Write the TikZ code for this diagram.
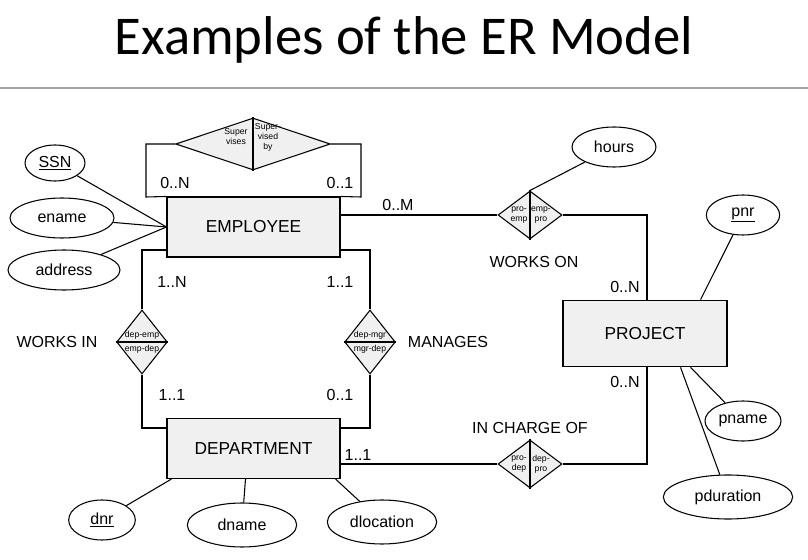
\documentclass[tikz,border=0pt]{standalone}
\usepackage{fontspec}
\setmainfont{Liberation Sans}
\newfontfamily\titlefont{Carlito}
\usetikzlibrary{shapes.geometric}
\begin{document}
\begin{tikzpicture}[x=0.75pt,y=-0.75pt,
  ent/.style={draw,thick,fill=gray!12,minimum width=129.75pt,minimum height=45pt,font=\fontsize{13}{15}\selectfont},
  rel/.style={draw,fill=gray!12,shape=diamond,inner sep=0pt},
  att/.style={draw,ellipse,inner sep=0pt,font=\fontsize{12}{14}\selectfont},
  lbl/.style={font=\fontsize{12}{14}\selectfont},
  tiny/.style={font=\fontsize{6.5}{7.5}\selectfont,inner sep=0pt,align=center},
  every path/.style={line width=0.8pt}]
\useasboundingbox (0,0) rectangle (808,560);
\node[font=\titlefont\fontsize{41}{46}\selectfont] (title) at (404,40) {Examples of the ER Model};
\draw[gray!70] (0,88) coordinate (hl) -- (808,88) coordinate (hr);
% entities
\node[ent] (emp) at (253.5,227) {EMPLOYEE};
\node[ent] (dep) at (253.5,448.5) {DEPARTMENT};
\node[ent,minimum width=123pt,minimum height=50pt] (proj) at (645,333.5) {PROJECT};
% relationships
\node[rel,minimum width=116pt,minimum height=39pt] (sup) at (253,144) {};
\draw (sup.north)--(sup.south);
\node[tiny] (supl) at (236,137) {Super\\vises};
\node[tiny] (supr) at (268,137) {Super-\\vised\\by};
\node[rel,minimum width=48pt,minimum height=36pt] (won) at (530,215) {};
\draw (won.north)--(won.south);
\node[tiny] (wonl) at (519,215) {pro-\\emp};
\node[tiny] (wonr) at (541,215) {emp-\\pro};
\node[rel,minimum width=48pt,minimum height=36pt] (ico) at (530,464) {};
\draw (ico.north)--(ico.south);
\node[tiny] (icol) at (519,464) {pro-\\dep};
\node[tiny] (icor) at (541,464) {dep-\\pro};
\node[rel,minimum width=38pt,minimum height=48pt] (win) at (142,342) {};
\draw[line width=1.6pt] (win.west)--(win.east);
\node[tiny] (winl) at (142,335) {dep-emp};
\node[tiny] (winr) at (142,349) {emp-dep};
\node[rel,minimum width=38pt,minimum height=48pt] (man) at (370,342) {};
\draw[line width=1.6pt] (man.west)--(man.east);
\node[tiny] (manl) at (370,335) {dep-mgr};
\node[tiny] (manr) at (370,349) {mgr-dep};
% connectors
\draw (sup.west) -- (146,144) -- (146,197) -- (emp.north west);
\draw (sup.east) -- (361,144) -- (361,197) -- (emp.north east);
\draw (emp.east |- won.west) -- (won.west);
\draw (won.east) -- (647,215) -- (proj.north -| 647,0);
\draw (emp.south west |- 0,250) -| (win.north);
\draw (win.south) |- (dep.west |- 0,428);
\draw (emp.south east |- 0,250) -| (man.north);
\draw (man.south) |- (dep.east |- 0,428);
\draw (dep.east |- ico.west) -- (ico.west);
\draw (ico.east) -- (647,464) -- (proj.south -| 647,0);
% attributes
\node[att,minimum width=45pt,minimum height=27pt] (ssn) at (55,163) {\underline{SSN}};
\node[att,minimum width=78pt,minimum height=30pt] (ename) at (62,218) {ename};
\node[att,minimum width=84pt,minimum height=30pt] (addr) at (64,270) {address};
\node[att,minimum width=63pt,minimum height=30pt] (hours) at (614,147) {hours};
\node[att,minimum width=55pt,minimum height=30pt] (pnr) at (743,215) {\underline{pnr}};
\node[att,minimum width=57pt,minimum height=30pt] (pname) at (743,421) {pname};
\node[att,minimum width=97pt,minimum height=33pt] (pdur) at (728,497) {pduration};
\node[att,minimum width=50pt,minimum height=30pt] (dnr) at (102,520) {\underline{dnr}};
\node[att,minimum width=82pt,minimum height=33pt] (dname) at (242,525) {dname};
\node[att,minimum width=82pt,minimum height=33pt] (dloc) at (382,522) {dlocation};
\draw (ssn) -- (emp.west);
\draw (ename) -- (emp.west);
\draw (addr) -- (emp.west);
\draw (won.north) -- (hours);
\draw (proj.north east) ++(-27,0) coordinate (pa) -- (pnr);
\draw (proj.south east) ++(-37,0) coordinate (pb) -- (pname);
\draw (proj.south east) ++(-47,0) coordinate (pc) -- (pdur);
\draw (dep.south west) ++(5,0) coordinate (da) -- (dnr);
\draw (dep.south) ++(-8,0) coordinate (db) -- (dname);
\draw (dep.south east) ++(-5,0) coordinate (dc) -- (dloc);
% labels
\node[lbl] (l1) at (175,183) {0..N};
\node[lbl] (l2) at (340,183) {0..1};
\node[lbl] (l3) at (398,205) {0..M};
\node[lbl] (l4) at (534,262) {WORKS ON};
\node[lbl] (l5) at (625,287) {0..N};
\node[lbl] (l6) at (172,282) {1..N};
\node[lbl] (l7) at (340,282) {1..1};
\node[lbl] (l8) at (57,342) {WORKS IN};
\node[lbl] (l9) at (448,342) {MANAGES};
\node[lbl] (l10) at (172,395) {1..1};
\node[lbl] (l11) at (340,395) {0..1};
\node[lbl] (l12) at (625,382) {0..N};
\node[lbl] (l13) at (530,428) {IN CHARGE OF};
\node[lbl] (l14) at (358,455) {1..1};
\end{tikzpicture}
\end{document}
